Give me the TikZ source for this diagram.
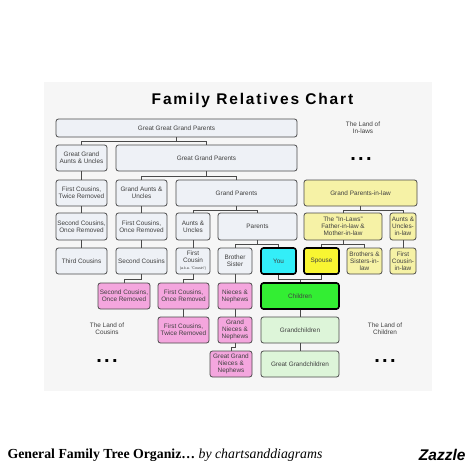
\documentclass[tikz,border=0pt]{standalone}
\usepackage{fontspec}
\setmainfont{Liberation Sans}
\newfontfamily\titlefont[LetterSpace=12]{Liberation Sans}
\newfontfamily\footfont{Liberation Serif}
\definecolor{cardgrey}{HTML}{F6F6F6}
\definecolor{boxgrey}{HTML}{EEF1F6}
\definecolor{boxline}{HTML}{4A4A4A}
\definecolor{txtgrey}{HTML}{404040}
\definecolor{inlawyellow}{HTML}{F6F2A6}
\definecolor{cousinpink}{HTML}{F4A6DE}
\definecolor{youcyan}{HTML}{33EEF8}
\definecolor{spouseyellow}{HTML}{F8F532}
\definecolor{childgreen}{HTML}{33EE33}
\definecolor{grandgreen}{HTML}{DDF5D9}
\begin{document}
\begin{tikzpicture}[x=1pt,y=-1pt,
  box/.style={draw=boxline, line width=0.8pt, rounded corners=2.5pt, fill=boxgrey,
    inner sep=0pt, align=center, text=txtgrey, minimum height=26pt,
    font=\fontsize{6.4}{7}\selectfont},
  inlaw/.style={box, fill=inlawyellow},
  pink/.style={box, fill=cousinpink},
  me/.style={box, draw=black, line width=1.6pt},
  grand/.style={box, fill=grandgreen},
  link/.style={draw=boxline, line width=0.6pt},
  land/.style={align=center, text=txtgrey, font=\fontsize{6.4}{7.2}\selectfont},
  dots/.style={font=\fontsize{20}{20}\selectfont\bfseries}]
  \useasboundingbox (0,0) rectangle (474,474);
  % background
  \fill[cardgrey] (44,82) rectangle (432,391);
  \node (title) at (252.5,100) {\titlefont\fontsize{15.5}{15.5}\selectfont\bfseries Family Relatives Chart};

  % ancestors
  \node[box, minimum width=241pt, minimum height=18pt] (gggp) at (176.5,128) {Great Great Grand Parents};
  \node[box, minimum width=51pt] (ggau) at (81.5,158) {Great Grand\\Aunts \& Uncles};
  \node[box, minimum width=181pt] (ggp) at (206.5,158) {Great Grand Parents};
  \node[box, minimum width=51pt] (fctr) at (81.5,193) {First Cousins,\\Twice Removed};
  \node[box, minimum width=51pt] (gau) at (141.5,193) {Grand Aunts \&\\Uncles};
  \node[box, minimum width=121pt] (gp) at (236.5,193) {Grand Parents};
  \node[inlaw, minimum width=113pt] (gpil) at (360.5,193) {Grand Parents-in-law};

  % parents' row
  \node[box, minimum width=51pt, minimum height=27pt] (scor) at (81.5,226.5) {Second Cousins,\\Once Removed};
  \node[box, minimum width=51pt, minimum height=27pt] (fcor) at (141.5,226.5) {First Cousins,\\Once Removed};
  \node[box, minimum width=34pt, minimum height=27pt] (au) at (193,226.5) {Aunts \&\\Uncles};
  \node[box, minimum width=79pt, minimum height=27pt] (par) at (257.5,226.5) {Parents};
  \node[inlaw, minimum width=78pt, minimum height=27pt] (inlaws) at (343,226.5) {The "In-Laws"\\Father-in-law \&\\Mother-in-law};
  \node[inlaw, minimum width=26pt, minimum height=27pt] (auil) at (403,226.5) {Aunts \&\\Uncles-\\in-law};

  % own row
  \node[box, minimum width=51pt] (tc) at (81.5,261) {Third Cousins};
  \node[box, minimum width=51pt] (sc) at (141.5,261) {Second Cousins};
  \node[box, minimum width=34pt] (fc) at (193,261) {First\\Cousin\\{\fontsize{3.6}{4.2}\selectfont (a.k.a. "Cousin")}};
  \node[box, minimum width=34pt] (bs) at (235,261) {Brother\\Sister};
  \node[me, fill=youcyan, minimum width=35pt] (you) at (278.5,261) {You};
  \node[me, fill=spouseyellow, minimum width=35pt] (spouse) at (321.5,261) {Spouse};
  \node[inlaw, minimum width=35pt] (bsil) at (364.5,261) {Brothers \&\\Sisters-in-\\law};
  \node[inlaw, minimum width=26pt] (fcil) at (403,261) {First\\Cousin-\\in-law};

  % descendants
  \node[pink, minimum width=52pt] (scor2) at (124,296) {Second Cousins,\\Once Removed};
  \node[pink, minimum width=51pt] (fcor2) at (183.5,296) {First Cousins,\\Once Removed};
  \node[pink, minimum width=34pt] (nn) at (235,296) {Nieces \&\\Nephews};
  \node[me, fill=childgreen, minimum width=78pt] (ch) at (300,296) {Children};
  \node[pink, minimum width=51pt] (fctr2) at (183.5,330) {First Cousins,\\Twice Removed};
  \node[pink, minimum width=34pt] (gnn) at (235,330) {Grand\\Nieces \&\\Nephews};
  \node[grand, minimum width=78pt] (gc) at (300,330) {Grandchildren};
  \node[pink, minimum width=42pt] (ggnn) at (231,364) {Great Grand\\Nieces \&\\Nephews};
  \node[grand, minimum width=78pt] (ggc) at (300,364) {Great Grandchildren};

  % lands
  \node[land] (landinlaws) at (363,128) {The Land of\\In-laws};
  \node[dots] (dotsinlaws) at (361,159) {.\hspace{2.4pt}.\hspace{2.4pt}.};
  \node[land] (landcousins) at (107,329) {The Land of\\Cousins};
  \node[dots] (dotscousins) at (107,361) {.\hspace{2.4pt}.\hspace{2.4pt}.};
  \node[land] (landchildren) at (385,329) {The Land of\\Children};
  \node[dots] (dotschildren) at (385,361) {.\hspace{2.4pt}.\hspace{2.4pt}.};

  % connectors
  \draw[link] (gggp.south) -- ++(0,4) -| (ggau.north);
  \draw[link] (gggp.south) -- ++(0,4) -| (ggp.north);
  \draw[link] (ggp.south) -- ++(0,4.5) -| (gau.north);
  \draw[link] (ggp.south) -- ++(0,4.5) -| (gp.north);
  \draw[link] (gp.south) -- ++(0,3.5) -| (au.north);
  \draw[link] (gp.south) -- ++(0,3.5) -| (par.north);
  \draw[link] (gpil.south) -- ++(0,3.5) -| (inlaws.north);
  \draw[link] (gpil.south) -- ++(0,3.5) -| (auil.north);
  \draw[link] (ggau) -- (fctr);
  \draw[link] (fctr) -- (scor);
  \draw[link] (scor) -- (tc);
  \draw[link] (gau) -- (fcor);
  \draw[link] (fcor) -- (sc);
  \draw[link] (au) -- (fc);
  \draw[link] (auil) -- (fcil);
  \draw[link] (par.south) -- ++(0,4) -| (bs.north);
  \draw[link] (par.south) -- ++(0,4) -| (you.north);
  \draw[link] (inlaws.south) -- ++(0,4) -| (spouse.north);
  \draw[link] (inlaws.south) -- ++(0,4) -| (bsil.north);
  \draw[link] (sc.south) -- ++(0,4.5) -| (scor2.north);
  \draw[link] (fc.south) -- ++(0,4.5) -| (fcor2.north);
  \draw[link] (bs) -- (nn);
  \draw[link] (you.south) -- ++(0,4) coordinate (youbar) -| (spouse.south);
  \draw[link] (ch.north) -- (ch.north |- youbar);
  \draw[link] (fcor2) -- (fctr2);
  \draw[link] (nn) -- (gnn);
  \draw[link] (gnn.south) -- ++(0,4) -| (ggnn.north);
  \draw[link] (ch) -- (gc);
  \draw[link] (gc) -- (ggc);

  % footer
  \node[anchor=west] (foot) at (4,455) {\footfont\fontsize{13.8}{14}\selectfont\bfseries General Family Tree Organiz\dots\ \mdseries\itshape by chartsanddiagrams};
  \node[anchor=east] (zazzle) at (469,455) {\fontsize{15.5}{16}\selectfont\bfseries\itshape Zazzle};
\end{tikzpicture}
\end{document}
